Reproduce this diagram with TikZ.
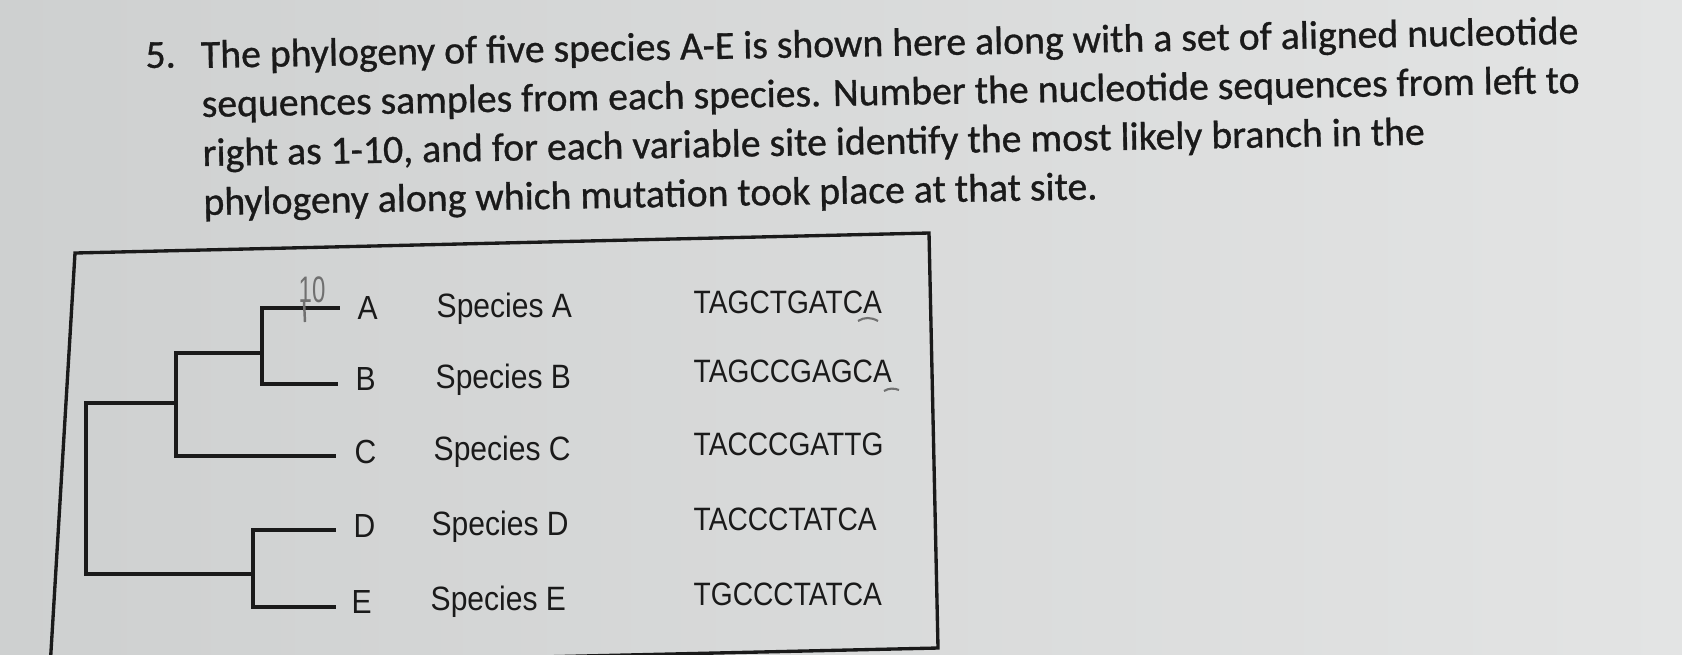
\documentclass[tikz,border=0pt]{standalone}
\usepackage{fontspec}
\setmainfont[FakeBold=0.8]{Carlito}
\newfontfamily\labfont[FakeStretch=0.9]{Liberation Sans}
\newfontfamily\spfont[FakeStretch=0.89]{Liberation Sans}
\newfontfamily\seqfont[FakeStretch=0.87]{Liberation Sans}
\newfontfamily\handfont[FakeStretch=0.65]{Liberation Sans}
\usetikzlibrary{positioning}
\definecolor{paperL}{RGB}{206,208,208}
\definecolor{paperR}{RGB}{227,228,228}
\definecolor{ink}{RGB}{26,26,26}
\definecolor{pencil}{RGB}{112,112,112}

\begin{document}
\begin{tikzpicture}[x=0.01cm, y=-0.01cm,
  branch/.style={draw=ink, line width=1.05pt},
  question/.style={anchor=base west, inner sep=0pt, rotate=1.0, align=left, text=ink, font=\fontsize{11.3}{13.94}\selectfont},
  leaf/.style={anchor=base west, inner sep=0pt, text=ink, font=\labfont\fontsize{9.5}{11}\selectfont},
  spname/.style={anchor=base west, inner sep=0pt, text=ink, font=\spfont\fontsize{9.6}{11}\selectfont},
  seq/.style={anchor=base west, inner sep=0pt, text=ink, font=\seqfont\fontsize{9.2}{11}\selectfont}]
\useasboundingbox (0,0) rectangle (1682,654);
\clip (0,0) rectangle (1682,654);
\shade[left color=paperL, right color=paperR] (0,0) rectangle (1682,654);
%
% base of a multi-line node is its last line
\node[question] (qnum) at (145,68) {5.};
\node[question] (qtext) at (203,215) {The phylogeny of five species A-E is shown here along with a set of aligned nucleotide\\
sequences samples from each species. Number the nucleotide sequences from left to\\
right as 1-10, and for each variable site identify the most likely branch in the\\
phylogeny along which mutation took place at that site.};
%
\draw[ink, line width=0.95pt] (75,253) -- (929,233) -- (938,648) -- (50,668) -- cycle;
%
\coordinate (root) at (86,489);
\coordinate (nABC) at (176,403);
\coordinate (nAB) at (262,353);
\coordinate (nDE) at (253,574);
\coordinate (tipA) at (340,308);
\coordinate (tipB) at (338,384);
\coordinate (tipC) at (336,456);
\coordinate (tipD) at (336,530);
\coordinate (tipE) at (336,607);
\draw[branch] (root) |- (nABC) (root) |- (nDE);
\draw[branch] (nABC) |- (nAB) (nABC) |- (tipC);
\draw[branch] (nAB) |- (tipA) (nAB) |- (tipB);
\draw[branch] (nDE) |- (tipD) (nDE) |- (tipE);
%
\node[leaf] (labA) at (357,319) {A};
\node[leaf] (labB) at (355,390) {B};
\node[leaf] (labC) at (354,463) {C};
\node[leaf] (labD) at (353,537) {D};
\node[leaf] (labE) at (351,613) {E};
%
\node[spname] (spA) at (436,317) {Species A};
\node[spname] (spB) at (435,388) {Species B};
\node[spname] (spC) at (433,460) {Species C};
\node[spname] (spD) at (431,535) {Species D};
\node[spname] (spE) at (430,610) {Species E};
%
\node[seq] (seqA) at (693,313) {TAGCTGATCA};
\node[seq] (seqB) at (693,382) {TAGCCGAGCA};
\node[seq] (seqC) at (693,455) {TACCCGATTG};
\node[seq] (seqD) at (693,530) {TACCCTATCA};
\node[seq] (seqE) at (693,605) {TGCCCTATCA};
%
% pencil marks
\node[anchor=base west, inner sep=0pt, text=pencil, font=\handfont\fontsize{10.5}{12}\selectfont] (note) at (298,302) {10};
\draw[pencil, line width=0.7pt] (304,301) -- (305,322);
\draw[pencil, line width=0.6pt] (858,321) .. controls (864,317) and (871,317) .. (878,321);
\draw[pencil, line width=0.6pt] (884,391) .. controls (889,388) and (894,388) .. (899,390);
\end{tikzpicture}
\end{document}
